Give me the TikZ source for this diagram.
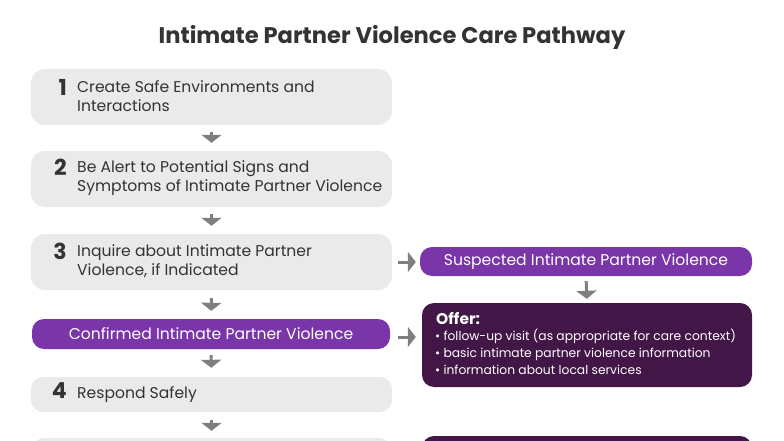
\documentclass[tikz,border=0pt]{standalone}
\usepackage{fontspec}
\setmainfont{Poppins}
\usetikzlibrary{arrows.meta,positioning,calc}
\definecolor{boxgray}{HTML}{EAEAEA}
\definecolor{ipvpurple}{HTML}{7A35A8}
\definecolor{ipvdark}{HTML}{421646}
\definecolor{txtdark}{HTML}{333333}
\definecolor{arrgray}{HTML}{7F7F7F}
\tikzset{
  stepbox/.style={fill=boxgray, rounded corners=14pt, minimum width=361pt, minimum height=56pt, inner sep=0pt},
  purplebox/.style={fill=ipvpurple, rounded corners=12pt, inner sep=0pt, text=white, font=\fontsize{15.6}{17}\selectfont},
  darkbox/.style={fill=ipvdark, rounded corners=12pt, inner sep=0pt, minimum width=330pt},
  numlbl/.style={font=\bfseries\fontsize{22}{24}\selectfont, text=txtdark, inner sep=0pt, anchor=base east},
  steptext/.style={font=\fontsize{15.6}{19}\selectfont, text=txtdark, inner sep=0pt, anchor=west, align=left},
  flow/.style={draw=arrgray, line width=3pt, -{Triangle[width=20pt,length=8pt]}},
}
\begin{document}
\begin{tikzpicture}[x=1pt,y=-1pt]
\useasboundingbox (0,0) rectangle (784,441);
\clip (0,0) rectangle (784,441);
\fill[white] (0,0) rectangle (784,441);
\node[font=\bfseries\fontsize{22.6}{26}\selectfont, text=txtdark] (title) at (392,37) {Intimate Partner Violence Care Pathway};
% left column
\node[stepbox] (b1) at (211.5,97) {};
\node[stepbox] (b2) at (211.5,179) {};
\node[stepbox] (b3) at (211.5,262) {};
\node[purplebox, minimum width=358pt, minimum height=30pt] (c) at (211,334) {Confirmed Intimate Partner Violence};
\node[stepbox, minimum height=35pt, rounded corners=12pt] (b4) at (211.5,394.5) {};
\node[stepbox] (b5) at (211.5,466) {};
\node[steptext] (t1) at (77,96.5) {Create Safe Environments and\\Interactions};
\node[steptext] (t2) at (77,178.5) {Be Alert to Potential Signs and\\Symptoms of Intimate Partner Violence};
\node[steptext] (t3) at (77,261.5) {Inquire about Intimate Partner\\Violence, if Indicated};
\node[steptext] (t4) at (77,394.5) {Respond Safely};
\node[numlbl] (n1) at ($(t1.north west)+(-10,14.5)$) {1};
\node[numlbl] (n2) at ($(t2.north west)+(-10,14.5)$) {2};
\node[numlbl] (n3) at ($(t3.north west)+(-10,14.5)$) {3};
\node[numlbl] (n4) at ($(t4.base west)+(-10,0.5)$) {4};
% right column
\node[purplebox, minimum width=332pt, minimum height=29pt] (s) at (586,261.5) {Suspected Intimate Partner Violence};
\node[darkbox, minimum height=84pt] (o) at (587,345) {};
\node[font=\bfseries\fontsize{15.5}{17}\selectfont, text=white, anchor=west, inner sep=0pt] (ot) at (436,318) {Offer:};
\node[font=\fontsize{12.3}{17}\selectfont, text=white, anchor=north west, inner sep=0pt, align=left] (ol) at (435,329)
  {\textbullet\ follow-up visit (as appropriate for care context)\\
   \textbullet\ basic intimate partner violence information\\
   \textbullet\ information about local services};
\node[darkbox, minimum height=84pt] (o2) at (587,478) {};
% connectors
\draw[flow, shorten <=7pt, shorten >=8pt] (b1.south) -- (b2.north);
\draw[flow, shorten <=7pt, shorten >=8pt] (b2.south) -- (b3.north);
\draw[flow, shorten <=8pt, shorten >=8pt] (b3.south) -- (c.north);
\draw[flow, shorten <=6pt, shorten >=9pt] (c.south) -- (b4.north);
\draw[flow, shorten <=8pt, shorten >=7pt] (b4.south) -- (b5.north);
\draw[flow, shorten <=6pt, shorten >=4pt] (b3.east) -- (b3.east -| s.west);
\draw[flow, shorten <=5pt, shorten >=4pt] (s.south) -- (o.north);
\draw[flow, shorten <=8pt, shorten >=6pt] ($(c.east)+(0,3)$) -- ($(c.east -| o.west)+(0,3)$);
\end{tikzpicture}
\end{document}
